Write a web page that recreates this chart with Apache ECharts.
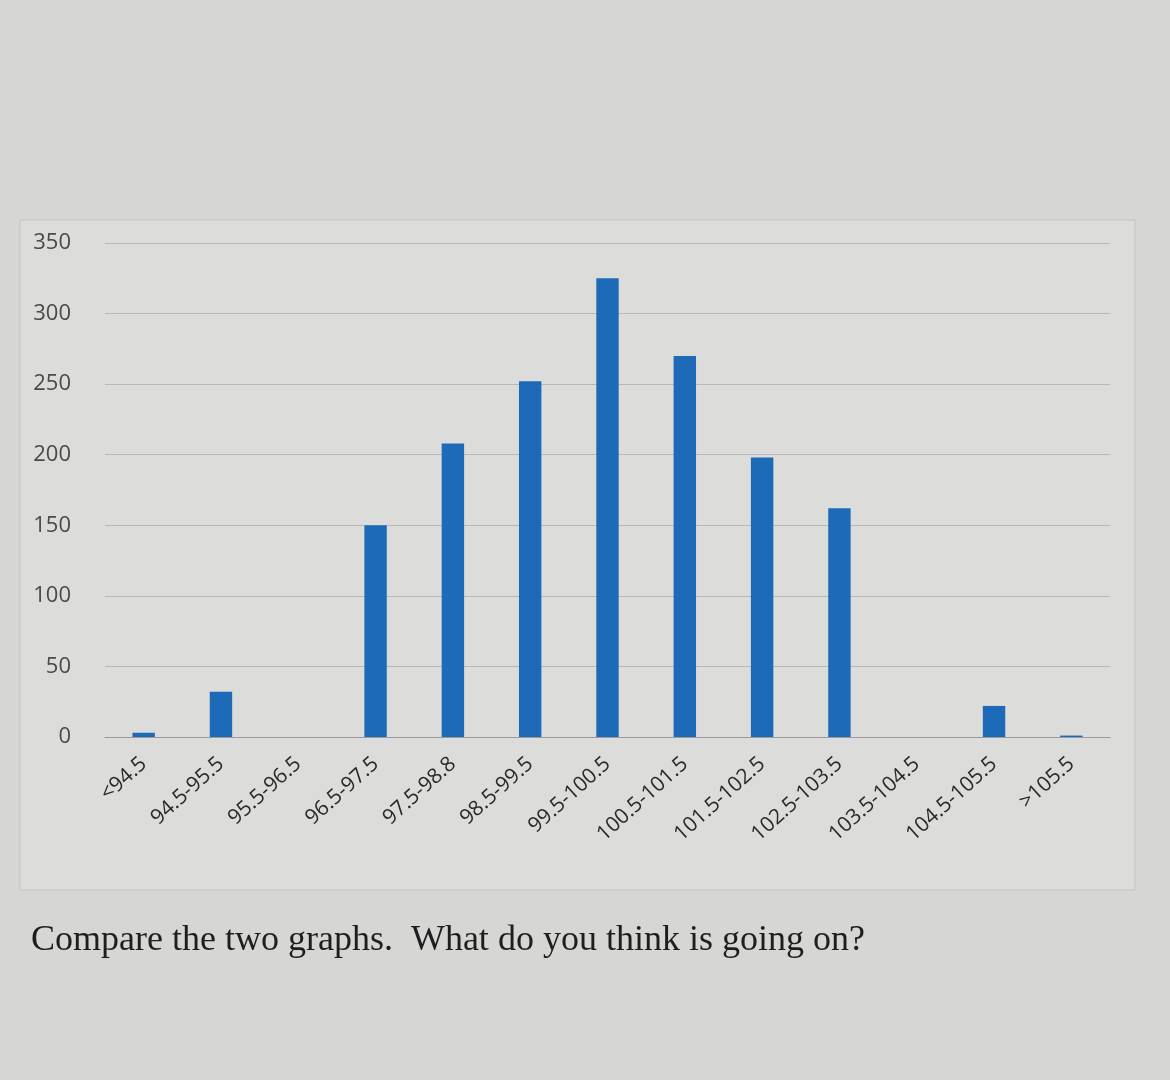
<!DOCTYPE html>
<html>
<head>
<meta charset="utf-8">
<style>
  html, body { margin: 0; padding: 0; background: #d6d6d4; }
  #chart { width: 1170px; height: 1080px; }
</style>
<script src="https://cdn.jsdelivr.net/npm/echarts@6/dist/echarts.min.js"></script>
</head>
<body>
<div id="chart"></div>
<script>
const categories = ['<94.5', '94.5-95.5', '95.5-96.5', '96.5-97.5', '97.5-98.8', '98.5-99.5',
  '99.5-100.5', '100.5-101.5', '101.5-102.5', '102.5-103.5', '103.5-104.5', '104.5-105.5', '>105.5'];
const counts = [3, 32, 0, 150, 208, 252, 325, 270, 198, 162, 0, 22, 1];
const yTicks = [0, 50, 100, 150, 200, 250, 300, 350];
const caption = 'Compare the two graphs.  What do you think is going on?';

const chart = echarts.init(document.getElementById('chart'));
chart.setOption({
  backgroundColor: '#d6d6d4',
  animation: false,
  graphic: [{
    type: 'rect',
    shape: { x: 20, y: 220, width: 1115, height: 670 },
    style: { fill: '#dcdcda', stroke: '#c4c4c2', lineWidth: 1 },
    z: -10
  }],
  title: {
    text: caption,
    left: 26,
    top: 918,
    textStyle: { fontFamily: 'Liberation Serif', fontSize: 36, fontWeight: 'normal', color: '#1e1e1e' }
  },
  grid: { left: 105, right: 60, top: 243, bottom: 343, containLabel: false },
  xAxis: {
    type: 'category',
    data: categories,
    axisLine: { lineStyle: { color: '#9a9a9a' } },
    axisTick: { show: false },
    axisLabel: { rotate: 42, color: '#2a2a2a', fontSize: 21, fontFamily: 'Open Sans', margin: 24, interval: 0 }
  },
  yAxis: {
    type: 'value',
    min: 0, max: 350, interval: 50,
    axisLine: { show: false },
    axisTick: { show: false },
    splitLine: { lineStyle: { color: '#b8b8b6' } },
    axisLabel: {
      color: '#4a4a4a', fontSize: 22, fontFamily: 'Open Sans', margin: 34,
      formatter: v => yTicks.includes(v) ? String(v) : ''
    }
  },
  series: [{
    type: 'bar',
    data: counts,
    barWidth: '29%',
    itemStyle: { color: '#1d6bb8' }
  }]
});
</script>
</body>
</html>
